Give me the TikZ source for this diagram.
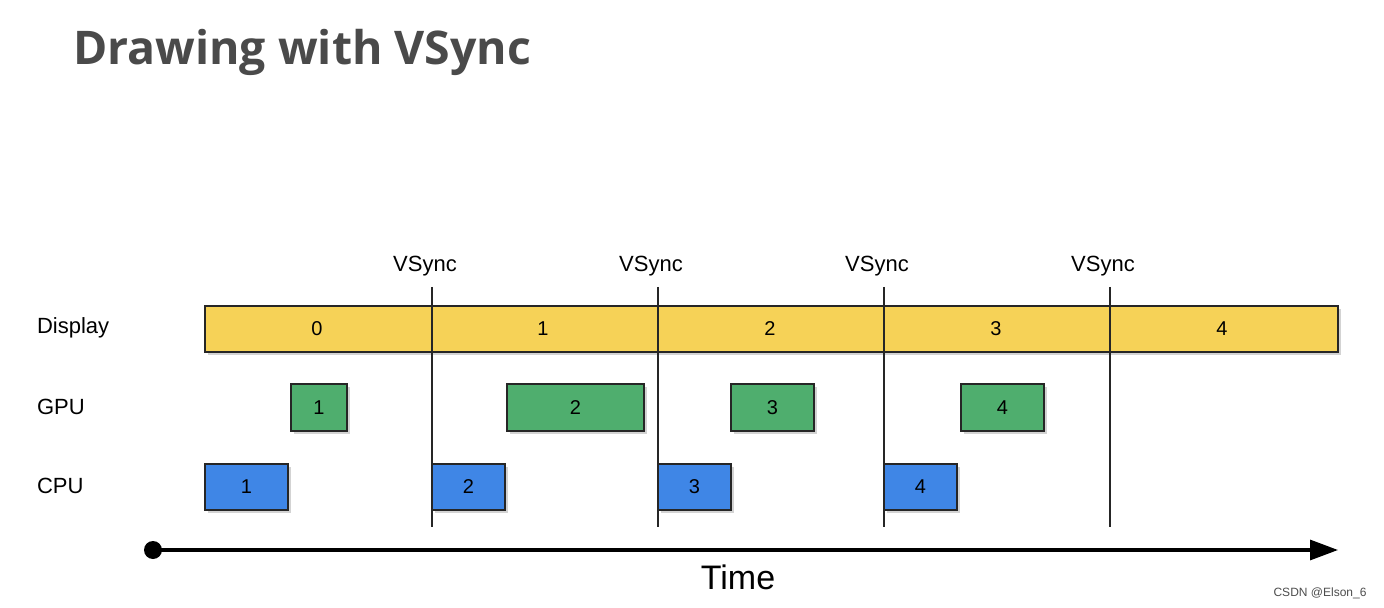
\documentclass[tikz,border=0pt]{standalone}
\usepackage{fontspec}
\setmainfont{Liberation Sans}
\newfontfamily\titlefont{Open Sans}
\usetikzlibrary{shadows,arrows.meta}
\definecolor{ylw}{HTML}{F6D257}
\definecolor{grn}{HTML}{4FAE6E}
\definecolor{blu}{HTML}{3F86E6}
\definecolor{ttl}{HTML}{4A4A4A}
\begin{document}
\begin{tikzpicture}[x=0.5pt,y=-0.5pt,
  blk/.style={draw=black!85,line width=1.2pt,drop shadow={opacity=0.35,shadow xshift=1.5pt,shadow yshift=-1.5pt},font=\fontsize{10}{12}\selectfont},
  vs/.style={line width=0.9pt,black!85},
  vlab/.style={font=\fontsize{11}{13}\selectfont},
  rlab/.style={font=\fontsize{11}{13}\selectfont,anchor=west}]
\useasboundingbox (0,0) rectangle (1384,608);
\node[anchor=west,font=\titlefont\bfseries\fontsize{23.2}{28}\selectfont,text=ttl] (title) at (66,52) {Drawing with VSync};
% display bar
\node[blk,fill=ylw,minimum width=566.5pt,minimum height=23pt,inner sep=0pt] (disp) at (771.5,329) {};
\foreach \x/\t in {317/0,543/1,770/2,996/3,1222/4} \node[font=\fontsize{10}{12}\selectfont] (d\t) at (\x,329) {\t};
% rows
\node[rlab] (ld) at (30,328) {Display};
\node[rlab] (lg) at (30,407) {GPU};
\node[rlab] (lc) at (30,486) {CPU};
% GPU
\foreach \a/\b/\t in {291/347/1,507/644/2,731/814/3,961/1044/4}
  \node[blk,fill=grn,minimum width={(\b-\a)*0.5pt},minimum height=23.5pt,inner sep=0pt] (g\t) at ({(\a+\b)/2},407.5) {\t};
% CPU
\foreach \a/\b/\t in {205/288/1,432/505/2,658/731/3,884/957/4}
  \node[blk,fill=blu,minimum width={(\b-\a)*0.5pt},minimum height=23pt,inner sep=0pt] (c\t) at ({(\a+\b)/2},487) {\t};
% vsync
\foreach \x/\i in {432/1,658/2,884/3,1110/4}{
  \coordinate (vt\i) at (\x,287); \coordinate (vb\i) at (\x,527);
  \draw[vs] (vt\i) -- (vb\i);
  \node[vlab] (vl\i) at (\x-7,266) {VSync};
}
% time axis
\coordinate (t0) at (153,550); \coordinate (t1) at (1338,550);
\fill (t0) circle (4.5pt);
\draw[line width=1.6pt,-{Triangle[length=14pt,width=10pt]}] (t0) -- (t1);
\node[font=\fontsize{17}{20}\selectfont] (time) at (738,577) {Time};
\node[font=\fontsize{6}{7}\selectfont,text=black!70] (wm) at (1320,593) {CSDN @Elson\_6};
\end{tikzpicture}
\end{document}
